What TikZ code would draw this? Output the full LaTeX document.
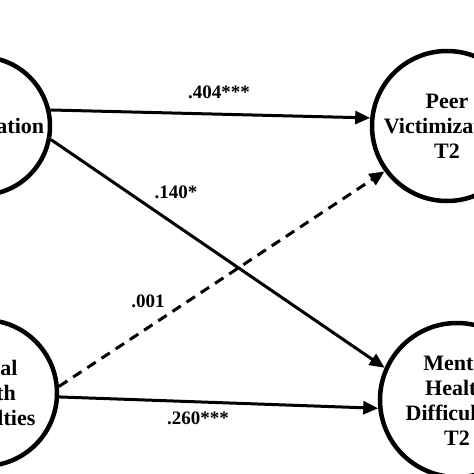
\documentclass[tikz,border=0pt]{standalone}
\usepackage{fontspec}
\setmainfont{Liberation Serif}
\usetikzlibrary{arrows.meta}
\tikzset{
  latent/.style={circle, draw, line width=4.5pt, inner sep=0pt, align=center,
    font=\fontsize{22}{25}\selectfont\bfseries},
  path/.style={line width=3pt, -{Triangle[length=15pt,width=13pt]}},
  nspath/.style={path, dash pattern=on 10pt off 7pt},
  coef/.style={font=\fontsize{19}{22}\selectfont\bfseries}
}
\begin{document}
\begin{tikzpicture}[x=1pt,y=-1pt]
\clip (0,0) rectangle (474,474);
\fill[white] (0,0) rectangle (474,474);
\node[latent, minimum size=138pt] (pv1) at (-19,126) {Victimization};
\node[latent, minimum size=146pt] (mh1) at (-16,393) {Mental\\Health\\Difficulties};
\node[latent, minimum size=150pt] (pv2) at (447,126) {Peer\\Victimization\\T2};
\node[latent, minimum size=154pt] (mh2) at (457,400) {Mental\\Health\\Difficulties\\T2};
\draw[path] (pv1.13) -- (pv2.174);
\draw[path] (pv1.-11) -- (mh2.156);
\draw[nspath] (mh1.5) -- (pv2.216);
\draw[path] (mh1.-3) -- (mh2.186);
\node[coef] (c1) at (219,92) {.404***};
\node[coef] (c2) at (176,192) {.140*};
\node[coef] (c3) at (148,301) {.001};
\node[coef] (c4) at (198,418) {.260***};
\end{tikzpicture}
\end{document}
